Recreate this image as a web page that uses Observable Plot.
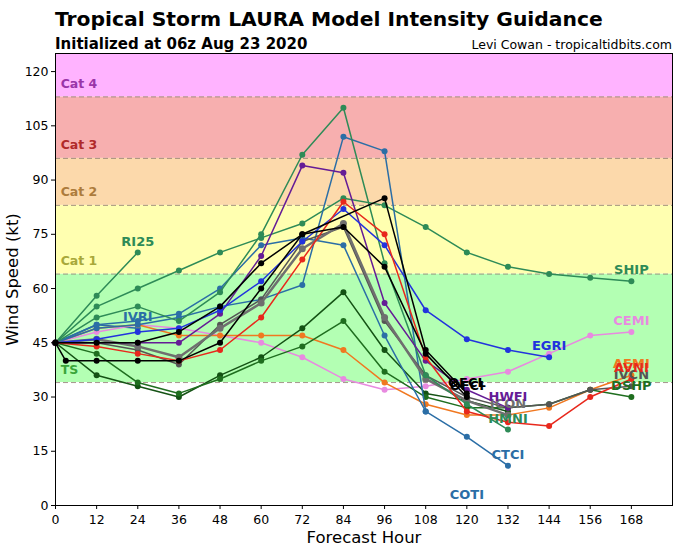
<!DOCTYPE html>
<html>
<head>
<meta charset="utf-8">
<script src="https://cdn.jsdelivr.net/npm/d3@7"></script>
<script src="https://cdn.jsdelivr.net/npm/@observablehq/plot@0.6"></script>
<style>
  html, body { margin: 0; padding: 0; background: #fff; }
  #wrap { position: relative; width: 700px; height: 547px; font-family: "DejaVu Sans", sans-serif; }
  #title { position: absolute; left: 55px; top: 7px; font-size: 20.3px; font-weight: bold; color: #000; white-space: nowrap; }
  #sub { position: absolute; left: 55px; top: 35px; font-size: 15px; font-weight: bold; color: #000; white-space: nowrap; }
  #credit { position: absolute; right: 28px; top: 37px; font-size: 12.5px; color: #000; white-space: nowrap; }
  #chart { position: absolute; left: 0; top: 50px; }
</style>
</head>
<body>
<div id="wrap">
  <div id="title">Tropical Storm LAURA Model Intensity Guidance</div>
  <div id="sub">Initialized at 06z Aug 23 2020</div>
  <div id="credit">Levi Cowan - tropicaltidbits.com</div>
  <div id="chart"></div>
</div>
<script>
// ---- data ----
const xTicks = [0,12,24,36,48,60,72,84,96,108,120,132,144,156,168];
const yTicks = [0,15,30,45,60,75,90,105,120];
const H = [0,12,24,36,48,60,72,84,96,108,120,132,144,156,168];

const catNames = ["TS","Cat 1","Cat 2","Cat 3","Cat 4"];
const catLo    = [34, 64, 83, 96, 113];
const catHi    = [64, 83, 96, 113, 125];

// model forecasts (kt); hours default to H
const SHIP = [45,55,60,65,70,74,78,85,83,77,70,66,64,63,62];
const RI25 = [45,58,70];
const IVRI = [45,50,49];
const HMNI = [45,52,55,51,59,75,97,110,67,36,28,21];
const HWFI = [45,45,45,45,53,69,94,92,56,40,32,27];
const EGRI = [45,46,48,49,54,62,73,82,72,54,46,43,41];
const AVNI = [45,44,42,40,43,52,68,84,75,41,26,23,22,30,35];
const AEMI = [45,49,50,47,47,47,47,43,34,28,25,25,27,32,36];
const CEMI = [45,48,50,49,47,45,41,35,32,33,35,37,42,47,48];
const CTCI = [45,50,51,53,60,72,74,72,47,26,19,11];
const COTI = [45,49,50,52,55,57,61,102,98,26,0];   // 0 = dissipated, not drawn
const OFCL_H = [0,12,24,36,48,60,72,96,108,120];
const OFCL = [45,45,45,48,55,67,75,85,43,31];
const OFCI_H = [0,3,12,24,36,48,60,72,84,96,108,120];
const OFCI = [45,40,40,40,40,45,60,75,77,66,42,30];
const ICON = [45,46,44,41,49,56,71,78,52,35,29,25];
const IVCN = [45,45,43,39,50,57,73,77,51,36,30,27,28,32,33];
const DSHP = [45,42,34,31,35,40,44,51,37,30,27,27,28,32,30];
const LGEM = [45,36,33,30,36,41,49,59,43,31,29,26];

// ---- styles ----
const catFill  = {"TS":"#b3ffb3","Cat 1":"#ffffb0","Cat 2":"#fcd9ab","Cat 3":"#f7afaf","Cat 4":"#ffb3ff"};
const catText  = {"TS":"#3aa53a","Cat 1":"#a8a83a","Cat 2":"#ad7c3c","Cat 3":"#b02a2a","Cat 4":"#9a35a8"};

const models = [
  {name:"SHIP", kt:SHIP, color:"#2e8b57"},
  {name:"RI25", kt:RI25, color:"#2e8b57"},
  {name:"IVRI", kt:IVRI, color:"#2b6ea6"},
  {name:"CEMI", kt:CEMI, color:"#e88ae0"},
  {name:"AEMI", kt:AEMI, color:"#f07820"},
  {name:"LGEM", kt:LGEM, color:"#145214", label:false},
  {name:"DSHP", kt:DSHP, color:"#1f6e1f"},
  {name:"COTI", kt:COTI, color:"#2b6ea6"},
  {name:"CTCI", kt:CTCI, color:"#2b6ea6"},
  {name:"IVCN", kt:IVCN, color:"#555555"},
  {name:"ICON", kt:ICON, color:"#6f6f6f", width:2.5},
  {name:"HMNI", kt:HMNI, color:"#2e8b57"},
  {name:"HWFI", kt:HWFI, color:"#651c96"},
  {name:"EGRI", kt:EGRI, color:"#2233dd"},
  {name:"AVNI", kt:AVNI, color:"#e8281c"},
  {name:"OFCI", kt:OFCI, hours:OFCI_H, color:"#000000"},
  {name:"OFCL", kt:OFCL, hours:OFCL_H, color:"#000000"}
];

const bands = catNames.map((n,i) => ({name:n, lo:catLo[i], hi:catHi[i]}));

const marks = [];
marks.push(Plot.rectY(bands, {y1:"lo", y2:"hi", fill: d => catFill[d.name]}));
marks.push(Plot.ruleY(bands.map(b => b.lo), {stroke:"#8f7c70", strokeOpacity:0.8, strokeDasharray:"5,3", strokeWidth:1}));
marks.push(Plot.text(bands, {x: 1.5, y:"lo", text:"name", dy:-13, textAnchor:"start", fill: d => catText[d.name], fontWeight:"bold", fontSize:12.5}));

const labels = [];
for (const m of models) {
  const hrs = m.hours || H;
  const pts = m.kt.map((v,i) => ({hour:hrs[i], kt:v}));
  const drawn = pts.filter(p => p.kt > 0);
  marks.push(Plot.line(drawn, {x:"hour", y:"kt", stroke:m.color, strokeWidth:m.width || 1.5}));
  marks.push(Plot.dot(drawn, {x:"hour", y:"kt", fill:m.color, r: m.width ? 3.5 : 3}));
  if (m.label !== false) {
    const last = pts[pts.length-1];
    labels.push({name:m.name, hour:last.hour, kt:last.kt, color:m.color});
  }
}
marks.push(Plot.text(labels, {x:"hour", y:"kt", text:"name", dy:-11, fill: d => d.color, fontWeight:"bold", fontSize:13}));
marks.push(Plot.frame({stroke:"#000", strokeWidth:1}));
marks.push(Plot.axisX({ticks:xTicks, tickSize:4, label:null, fontSize:12.5, tickPadding:6}));
marks.push(Plot.axisY({ticks:yTicks, tickSize:4, label:null, fontSize:12.5, tickPadding:3}));
marks.push(Plot.text(["Wind Speed (kt)"], {frameAnchor:"left", textAnchor:"middle", lineAnchor:"middle", dx:-43, rotate:-90, fontSize:16.5, fill:"#000"}));
marks.push(Plot.text(["Forecast Hour"], {frameAnchor:"bottom", textAnchor:"middle", lineAnchor:"middle", dy:32, fontSize:16.5, fill:"#000"}));

const chart = Plot.plot({
  width: 700,
  height: 497,
  marginTop: 3,
  marginBottom: 42,
  marginLeft: 55,
  marginRight: 28,
  style: {fontFamily: "DejaVu Sans", fontSize: "12.5px", color: "#000", background: "transparent"},
  x: {domain:[0,180]},
  y: {domain:[0,125]},
  marks
});
document.getElementById("chart").appendChild(chart);
</script>
</body>
</html>
